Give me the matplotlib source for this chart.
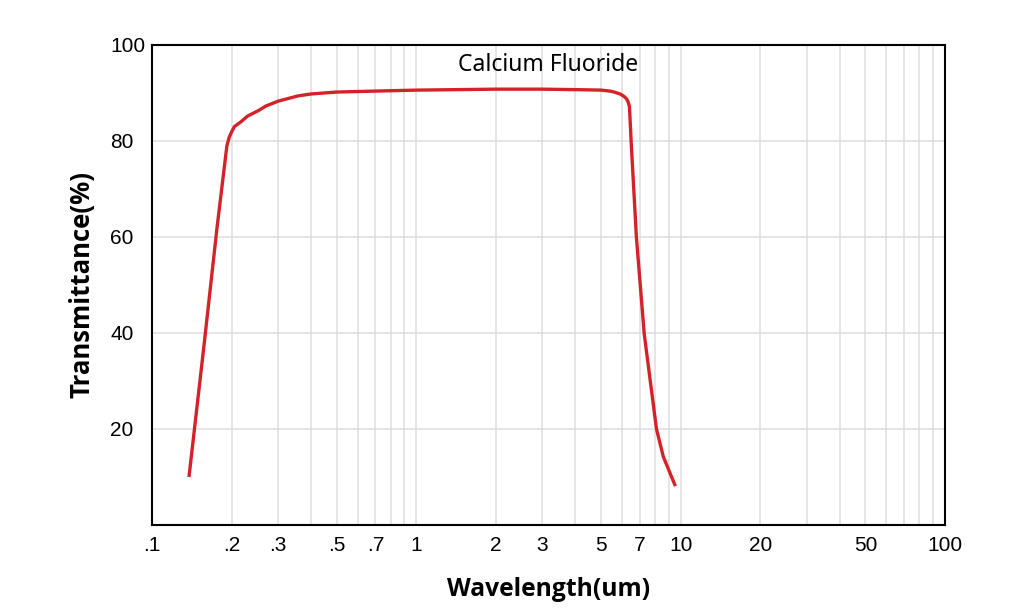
#!/usr/bin/env python
# Calcium fluoride transmittance curve
import matplotlib
matplotlib.use("Agg")
import matplotlib.pyplot as plt
from matplotlib.ticker import FixedLocator, LogLocator, NullFormatter

# %% data
wavelength = [0.138, 0.157, 0.176, 0.192, 0.196, 0.2, 0.205, 0.217, 0.23,
              0.252, 0.27, 0.3, 0.357, 0.4, 0.5, 0.7, 1, 2, 3, 4, 5, 5.4,
              5.6, 5.9, 6.1, 6.24, 6.32, 6.4, 6.5, 6.8, 7.28, 8.1, 8.6, 9.55]
transmittance = [10, 37, 61.7, 79, 80.8, 81.9, 83, 84, 85.2, 86.3, 87.3, 88.3,
                 89.4, 89.8, 90.2, 90.4, 90.6, 90.8, 90.8, 90.7, 90.6, 90.4,
                 90.2, 89.8, 89.3, 88.8, 88.2, 87.2, 79.6, 60, 39.8, 20, 14.2,
                 8.1]
xticks = [0.1, 0.2, 0.3, 0.5, 0.7, 1, 2, 3, 5, 7, 10, 20, 50, 100]
xticklabels = [".1", ".2", ".3", ".5", ".7", "1", "2", "3", "5", "7", "10",
               "20", "50", "100"]
yticks = [20, 40, 60, 80, 100]

# %% plot
fig = plt.figure(figsize=(10.24, 6.16), dpi=100)
ax = fig.add_axes([152 / 1024, 1 - 525 / 616, 793 / 1024, 480 / 616])

ax.plot(wavelength, transmittance, color="#d42229", lw=2.4,
        solid_capstyle="butt", solid_joinstyle="round", zorder=3)

ax.set_xscale("log")
ax.set_xlim(0.1, 100)
ax.set_ylim(0, 100)

ax.xaxis.set_major_locator(FixedLocator(xticks))
ax.set_xticklabels(xticklabels, fontfamily="Liberation Sans", fontsize=15)
ax.xaxis.set_minor_locator(LogLocator(base=10, subs=range(1, 10), numticks=20))
ax.xaxis.set_minor_formatter(NullFormatter())
ax.set_yticks(yticks)
ax.set_yticklabels([str(v) for v in yticks], fontfamily="Liberation Sans",
                   fontsize=15, ha="left")

ax.tick_params(axis="both", which="both", length=0)
ax.tick_params(axis="x", pad=8)
ax.tick_params(axis="y", pad=30)

ax.grid(which="both", axis="x", color="#dedede", lw=1.1)
ax.grid(which="major", axis="y", color="#dedede", lw=1.1)
ax.set_axisbelow(True)

for s in ax.spines.values():
    s.set_color("black")
    s.set_linewidth(1.5)

ax.text(0.5, 0.958, "Calcium Fluoride", transform=ax.transAxes,
        ha="center", va="center", fontfamily="Noto Sans", fontsize=16.5)

ax.set_xlabel("Wavelength(um)", fontfamily="Open Sans", fontweight="bold",
              fontsize=17.7)
ax.xaxis.set_label_coords(0.5, -0.135)
ax.xaxis.label.set_va("center")
ax.set_ylabel("Transmittance(%)", fontfamily="Open Sans", fontweight="bold",
              fontsize=18.5)
ax.yaxis.set_label_coords(-0.0883, 0.5)
ax.yaxis.label.set_va("center")

fig.savefig("out.png", dpi=100)
